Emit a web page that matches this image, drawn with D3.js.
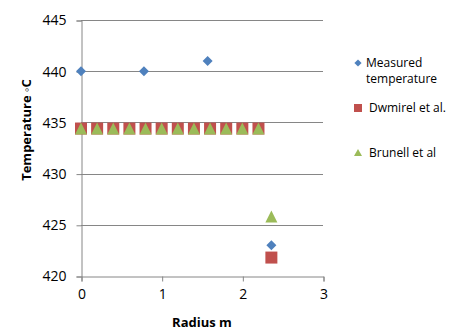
<!DOCTYPE html>
<html>
<head>
<meta charset="utf-8">
<script src="https://cdn.jsdelivr.net/npm/d3@7/dist/d3.min.js"></script>
<style>
  html, body { margin: 0; padding: 0; background: #fff; }
  svg { display: block; font-family: "Open Sans", "Liberation Sans", sans-serif; }
</style>
</head>
<body>
<svg id="chart" width="474" height="335"></svg>
<script>
// Radial temperature profile: measurements vs. two models
const measuredRadius = [0, 0.78, 1.57, 2.36];
const measuredTemp   = [440, 440, 441, 423];

const modelRadius = [0, 0.2, 0.4, 0.6, 0.8, 1.0, 1.2, 1.4, 1.6, 1.8, 2.0, 2.2, 2.36];
const dwmirelTemp = [434.4, 434.4, 434.4, 434.4, 434.4, 434.4, 434.4, 434.4, 434.4, 434.4, 434.4, 434.4, 421.8];
const brunellTemp = [434.4, 434.4, 434.4, 434.4, 434.4, 434.4, 434.4, 434.4, 434.4, 434.4, 434.4, 434.4, 425.8];

const xTicks = [0, 1, 2, 3];
const yTicks = [420, 425, 430, 435, 440, 445];

const seriesNames = ["Measured temperature", "Dwmirel et al.", "Brunell et al"];
const seriesColors = ["#4F81BD", "#C0504D", "#9BBB59"];

const svg = d3.select("#chart");
const plotLeft = 81, plotRight = 323, plotTop = 20, plotBottom = 276;

const x = d3.scaleLinear().domain([0, 3]).range([plotLeft, plotRight]);
const y = d3.scaleLinear().domain([420, 445]).range([plotBottom, plotTop]);

// horizontal gridlines
svg.append("g")
  .selectAll("line")
  .data(yTicks.filter(d => d !== 420))
  .join("line")
  .attr("x1", plotLeft).attr("x2", plotRight)
  .attr("y1", d => Math.round(y(d)) + 0.5).attr("y2", d => Math.round(y(d)) + 0.5)
  .attr("stroke", "#868686").attr("stroke-width", 1);

// y axis
const yAxis = d3.axisLeft(y).tickValues(yTicks).tickSize(5).tickPadding(10);
const gy = svg.append("g").attr("transform", `translate(${plotLeft + 0.5},0.5)`).call(yAxis);
gy.select(".domain").attr("stroke", "#868686");
gy.selectAll(".tick line").attr("stroke", "#868686");
gy.selectAll(".tick text").attr("font-size", 14).attr("fill", "#000")
  .attr("font-family", "'Open Sans', sans-serif");

// x axis
const xAxis = d3.axisBottom(x).tickValues(xTicks).tickSize(5).tickPadding(8).tickFormat(d3.format("d"));
const gx = svg.append("g").attr("transform", `translate(0.5,${Math.round(plotBottom) + 0.5})`).call(xAxis);
gx.select(".domain").attr("stroke", "#868686");
gx.selectAll(".tick line").attr("stroke", "#868686");
gx.selectAll(".tick text").attr("font-size", 14).attr("fill", "#000")
  .attr("font-family", "'Open Sans', sans-serif");

// axis titles
svg.append("text")
  .attr("x", 202).attr("y", 327)
  .attr("text-anchor", "middle")
  .attr("font-size", 13).attr("font-weight", "bold")
  .text("Radius m");

svg.append("text")
  .attr("transform", "translate(31,130) rotate(-90)")
  .attr("text-anchor", "middle")
  .attr("font-size", 13).attr("font-weight", "bold")
  .text("Temperature \u25E6C");

// markers
const diamond = d3.symbol().type(d3.symbolSquare).size(50);
const square = d3.symbol().type(d3.symbolSquare).size(144);
// triangle path centred on its bounding box
function triPath(w, h) {
  return `M0,${-h / 2}L${w / 2},${h / 2}L${-w / 2},${h / 2}Z`;
}

svg.append("g")
  .selectAll("path")
  .data(modelRadius.map((r, i) => [r, dwmirelTemp[i]]))
  .join("path")
  .attr("d", square())
  .attr("transform", d => `translate(${x(d[0])},${y(d[1])})`)
  .attr("fill", seriesColors[1]);

svg.append("g")
  .selectAll("path")
  .data(modelRadius.map((r, i) => [r, brunellTemp[i]]))
  .join("path")
  .attr("d", triPath(12, 12))
  .attr("transform", d => `translate(${x(d[0])},${y(d[1])})`)
  .attr("fill", seriesColors[2]);

svg.append("g")
  .selectAll("path")
  .data(measuredRadius.map((r, i) => [r, measuredTemp[i]]))
  .join("path")
  .attr("d", diamond())
  .attr("transform", d => `translate(${x(d[0])},${y(d[1])}) rotate(45)`)
  .attr("fill", seriesColors[0]);

// legend
const legend = svg.append("g").attr("font-size", 12).attr("fill", "#000");
const lx = 358;
legend.append("path").attr("d", d3.symbol().type(d3.symbolSquare).size(26)())
  .attr("transform", `translate(${lx},63) rotate(45)`).attr("fill", seriesColors[0]);
legend.append("text").attr("x", 366).attr("y", 67).text("Measured");
legend.append("text").attr("x", 366).attr("y", 83).text("temperature");

legend.append("path").attr("d", d3.symbol().type(d3.symbolSquare).size(64)())
  .attr("transform", `translate(${lx},108)`).attr("fill", seriesColors[1]);
legend.append("text").attr("x", 369).attr("y", 112).text(seriesNames[1]);

legend.append("path").attr("d", triPath(8, 7))
  .attr("transform", `translate(${lx},152.5)`).attr("fill", seriesColors[2]);
legend.append("text").attr("x", 369).attr("y", 157).text(seriesNames[2]);
</script>
</body>
</html>
